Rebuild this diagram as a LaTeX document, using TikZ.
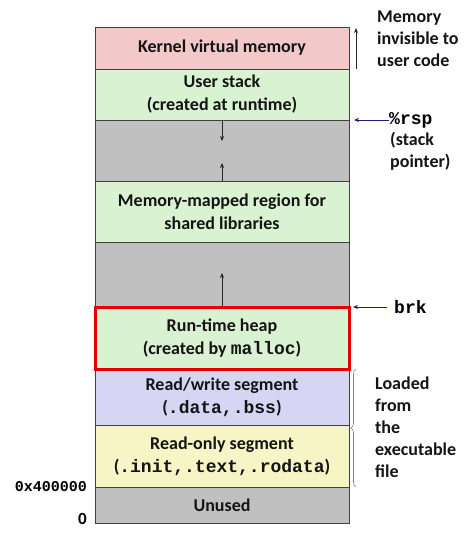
\documentclass[tikz,border=0pt]{standalone}
\usepackage{fontspec}
\setmainfont{Carlito}
\setmonofont{Liberation Mono}
\usetikzlibrary{arrows.meta,decorations.pathreplacing}
\definecolor{kpink}{HTML}{F2C8C8}
\definecolor{sgreen}{HTML}{D8F2D2}
\definecolor{sgray}{HTML}{C0C0C0}
\definecolor{slav}{HTML}{D6D6F4}
\definecolor{syel}{HTML}{F7F4C6}
\definecolor{navy}{HTML}{1F1F6E}
\begin{document}
\begin{tikzpicture}[x=1pt,y=-1pt,
  seg/.style={draw=black!75, line width=0.9pt, minimum width=254pt, inner sep=0pt,
    align=center, font=\fontsize{18}{23}\selectfont\bfseries, text=black!92},
  side/.style={anchor=west, align=left, font=\fontsize{18}{22}\selectfont\bfseries, text=black!92, inner sep=0pt},
  arr/.style={-{Stealth[length=5pt,width=4pt]}, line width=0.8pt, black!85},
  parr/.style={-{Stealth[length=5pt,width=4pt]}, line width=0.8pt, navy}]
\useasboundingbox (0,0) rectangle (474,544);
\fill[white] (0,0) rectangle (474,544);
\node[seg, fill=kpink, minimum height=42pt] (kernel) at (222,48) {Kernel virtual memory};
\node[seg, fill=sgreen, minimum height=51pt] (stack) at (222,94.5) {User stack\\(created at runtime)};
\node[seg, fill=sgray, minimum height=61pt] (gap1) at (222,150.5) {};
\node[seg, fill=sgreen, minimum height=61pt] (mmap) at (222,211.5) {Memory-mapped region for\\shared libraries};
\node[seg, fill=sgray, minimum height=65pt] (gap2) at (222,274.5) {};
\node[seg, fill=slav, minimum height=56pt] (rw) at (222,397) {Read/write segment\\(\texttt{.data,.bss})};
\node[seg, fill=syel, minimum height=62pt] (ro) at (222,456) {Read-only segment\\(\texttt{.init,.text,.rodata})};
\node[seg, fill=sgray, minimum height=36pt] (unused) at (222,505) {Unused};
\node[seg, fill=sgreen, minimum height=62pt, draw=red!90!black, line width=3pt] (heap) at (222,338) {Run-time heap\\(created by \texttt{malloc})};
% internal arrows
\coordinate (s1) at (222,141);
\coordinate (s2) at (222,163);
\coordinate (s3) at (222,273);
\draw[arr] (gap1.north) -- (s1);
\draw[arr] (gap1.south) -- (s2);
\draw[arr] (heap.north) -- (s3);
% right side
\coordinate (k1) at (356,69);
\coordinate (k2) at (356,28);
\draw[arr] (k1) -- (k2);
\node[side] (inv) at (377,39) {Memory\\invisible to\\user code};
\node[anchor=west, inner sep=0pt, font=\fontsize{18}{18}\selectfont\ttfamily\bfseries] (rsp) at (389,120) {\%rsp};
\node[side] (sp) at (390,151) {(stack\\pointer)};
\coordinate (rspt) at (354,120);
\draw[parr] (rsp.west) -- (rspt);
\node[anchor=west, inner sep=0pt, font=\fontsize{18}{18}\selectfont\ttfamily\bfseries] (brk) at (394,307) {brk};
\coordinate (brkt) at (353,307);
\draw[parr] (387,307) -- (brkt);
\coordinate (b1) at (356,369);
\coordinate (b2) at (356,487);
\draw[decorate, decoration={brace, amplitude=5pt, mirror}, line width=0.6pt, navy!60] (b1) -- (b2);
\node[side] (loaded) at (375,427) {Loaded\\from\\the\\executable\\file};
% left labels
\node[anchor=east, inner sep=0pt, font=\fontsize{15}{15}\selectfont\ttfamily\bfseries] (addr) at (87,487) {0x400000};
\node[anchor=east, inner sep=0pt, font=\fontsize{17}{17}\selectfont\bfseries] (zero) at (87,519) {0};
\end{tikzpicture}
\end{document}
